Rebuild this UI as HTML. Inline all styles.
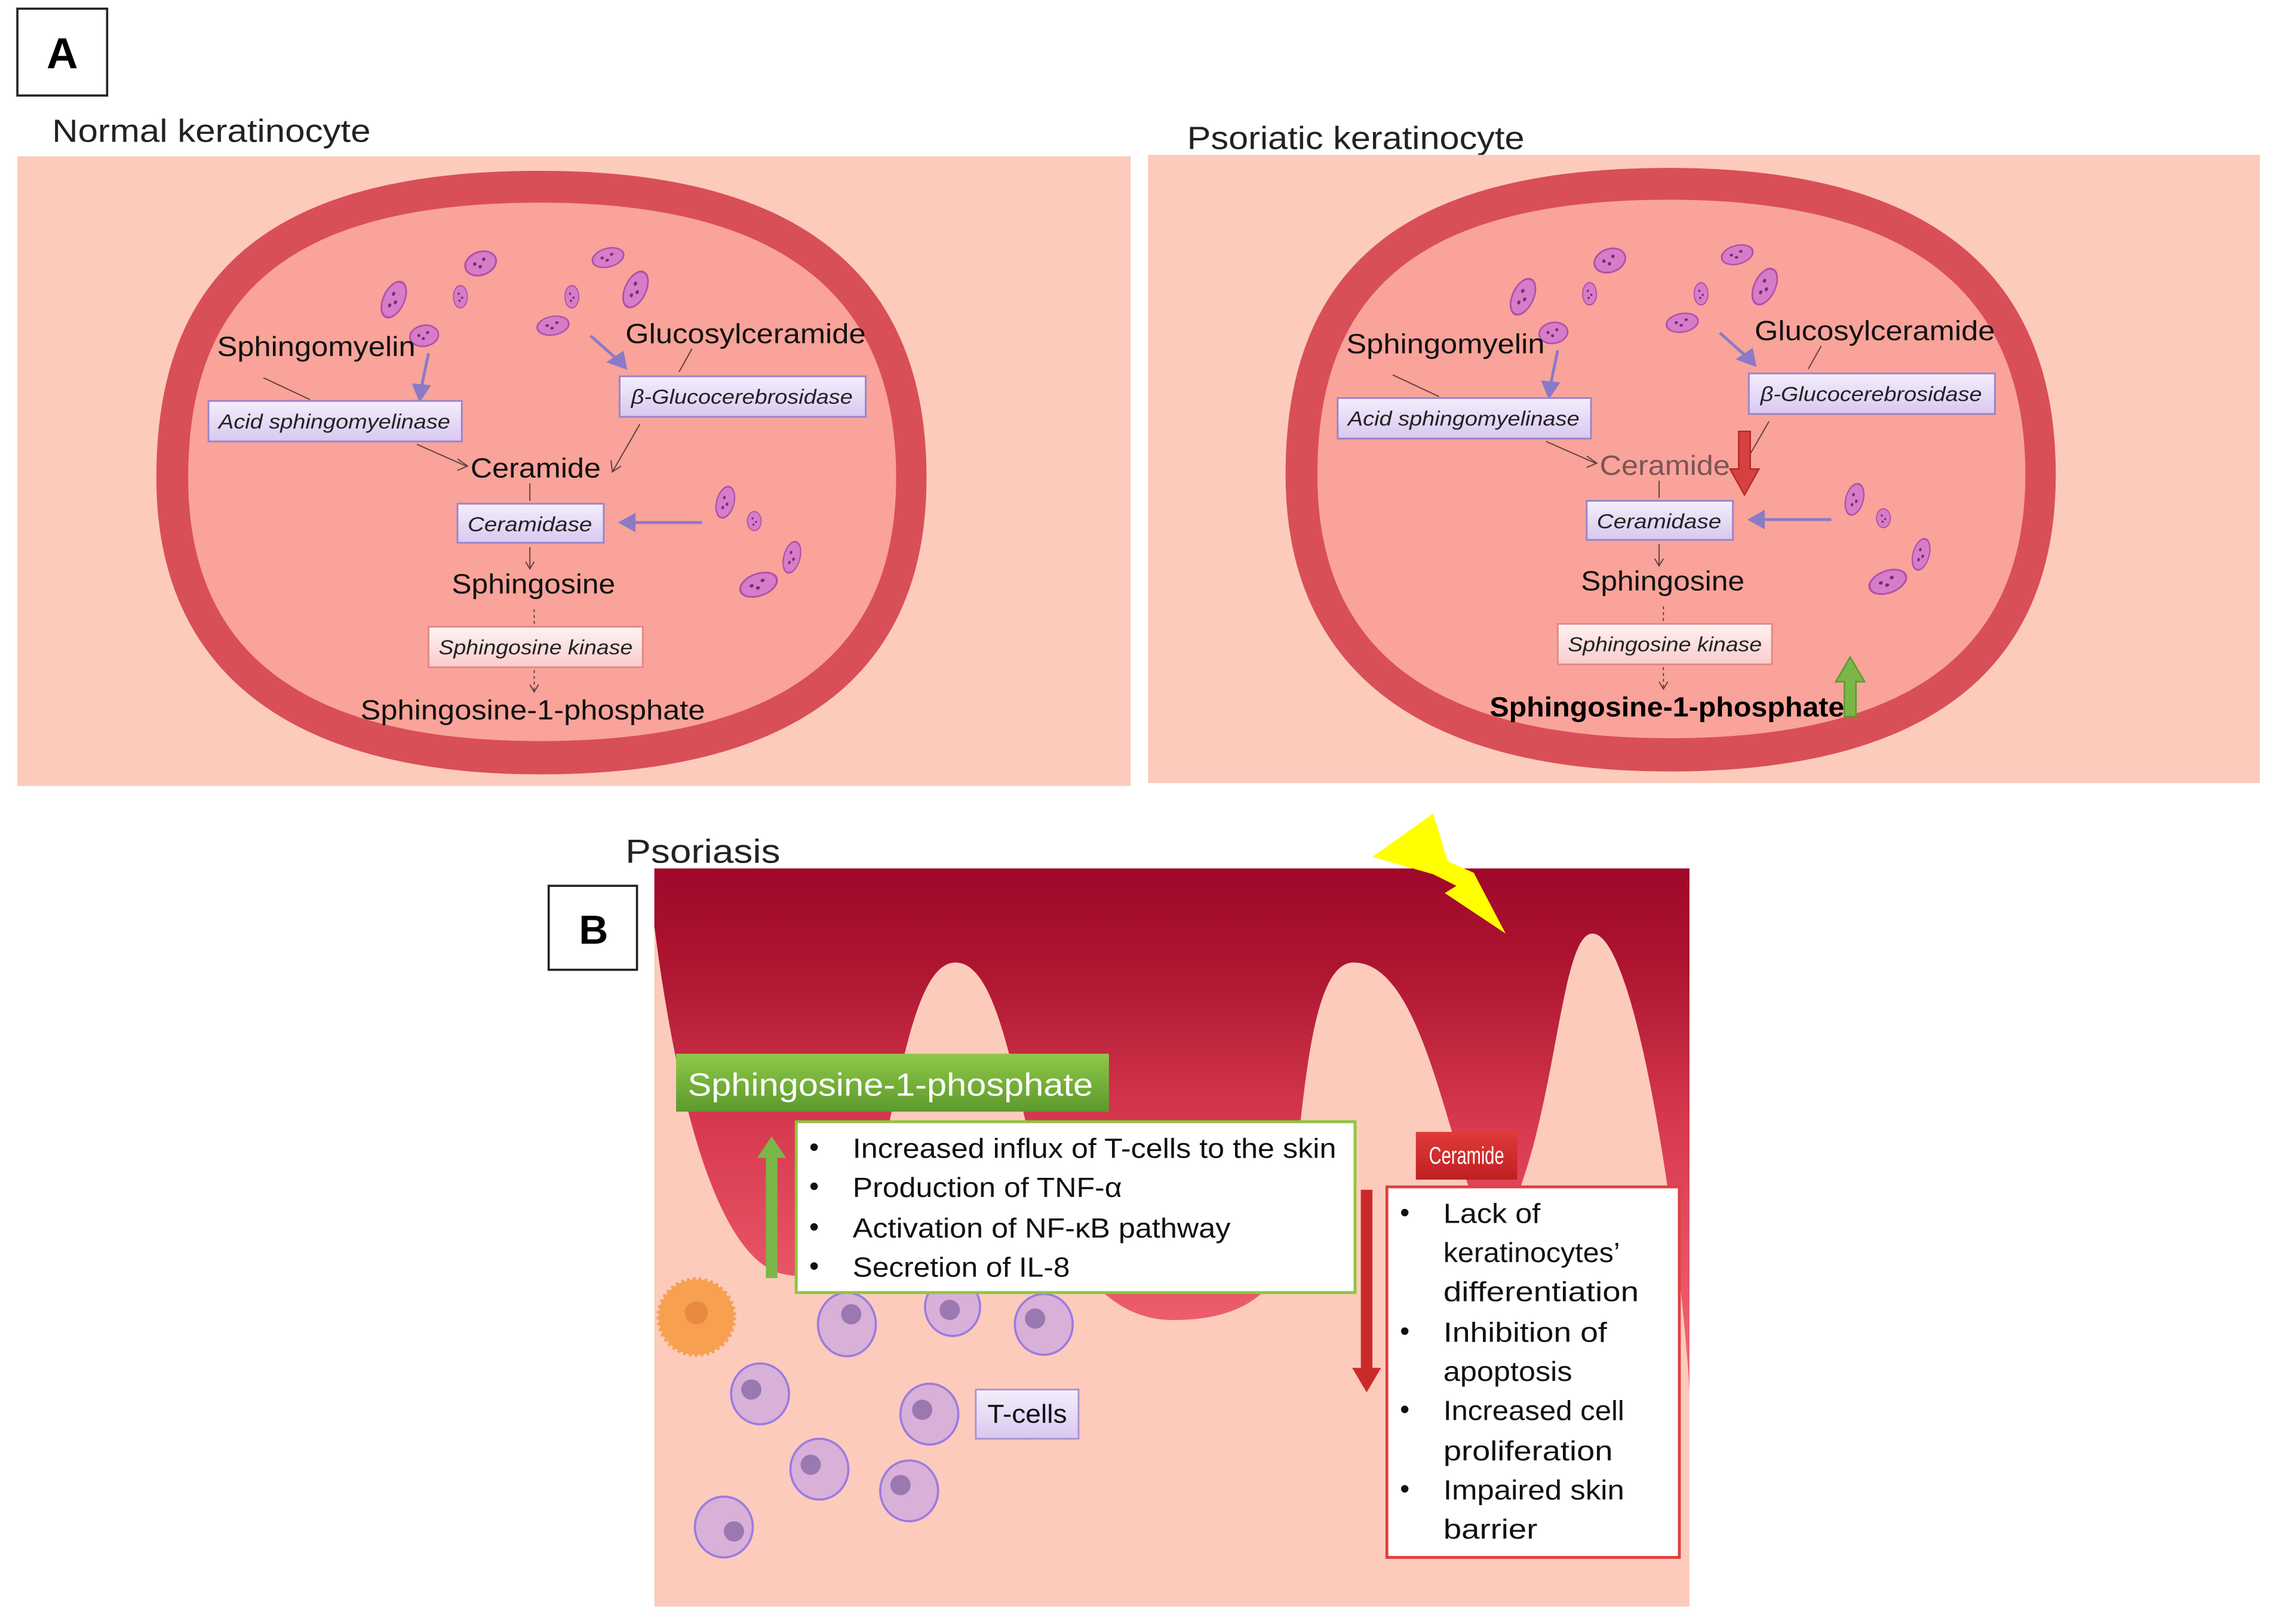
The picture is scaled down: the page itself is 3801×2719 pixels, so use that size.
<!DOCTYPE html>
<html><head><meta charset="utf-8"><style>html,body{margin:0;padding:0;background:#fff}svg{display:block}text{font-family:"Liberation Sans",sans-serif}</style></head>
<body>
<svg width="3801" height="2719" viewBox="0 0 1568 1122" preserveAspectRatio="none" xmlns="http://www.w3.org/2000/svg">
<defs>
<linearGradient id="lav" x1="0" y1="0" x2="0" y2="1"><stop offset="0" stop-color="#f4eefc"/><stop offset="1" stop-color="#d9c8f0"/></linearGradient>
<linearGradient id="pnk" x1="0" y1="0" x2="0" y2="1"><stop offset="0" stop-color="#fff2f2"/><stop offset="1" stop-color="#f9cccc"/></linearGradient>
<linearGradient id="skin" x1="0" y1="0" x2="0" y2="1"><stop offset="0" stop-color="#a0082a"/><stop offset="0.18" stop-color="#ac1430"/><stop offset="0.5" stop-color="#d83a50"/><stop offset="1" stop-color="#f46a78"/></linearGradient>
<linearGradient id="grn" x1="0" y1="0" x2="0" y2="1"><stop offset="0" stop-color="#8fc848"/><stop offset="1" stop-color="#5c9a2c"/></linearGradient>
<linearGradient id="redl" x1="0" y1="0" x2="0" y2="1"><stop offset="0" stop-color="#e03a3a"/><stop offset="1" stop-color="#c01f22"/></linearGradient>
<g id="ves"><ellipse rx="8" ry="11" fill="#d77cc8" stroke="#b050a8" stroke-width="1.2"/><circle cx="-2" cy="-3" r="1.2" fill="#7a2a7a"/><circle cx="2" cy="1" r="1.2" fill="#7a2a7a"/><circle cx="-1" cy="4" r="1.2" fill="#7a2a7a"/></g>
<g id="cell">
<path d="M373,118 C565,118 640,200 640,330 C640,470 545,535 373,535 C195,535 108,460 108,330 C108,190 185,118 373,118 Z" fill="#d94f57"/>
<path d="M373,140 C550,140 619,212 619,330 C619,455 535,512 373,512 C205,512 130,448 130,330 C130,205 198,140 373,140 Z" fill="#f9a39a"/>
<use href="#ves" transform="translate(272,207) rotate(25) scale(0.9,1.2)"/>
<use href="#ves" transform="translate(332,182) rotate(70)"/>
<use href="#ves" transform="translate(318,205) scale(0.6,0.7)"/>
<use href="#ves" transform="translate(293,232) rotate(80) scale(0.9)"/>
<use href="#ves" transform="translate(420,178) rotate(75) scale(0.8,1)"/>
<use href="#ves" transform="translate(439,200) rotate(25) scale(0.9,1.2)"/>
<use href="#ves" transform="translate(395,205) scale(0.6,0.7)"/>
<use href="#ves" transform="translate(382,225) rotate(80) scale(0.8,1)"/>
<use href="#ves" transform="translate(501,347) rotate(15) scale(0.75,1)"/>
<use href="#ves" transform="translate(521,360) scale(0.6,0.6)"/>
<use href="#ves" transform="translate(547,385) rotate(15) scale(0.7,1)"/>
<use href="#ves" transform="translate(524,404) rotate(70) scale(0.95,1.2)"/>
<g stroke="#8a7ac8" stroke-width="2" fill="#8a7ac8">
<line x1="296" y1="244" x2="291" y2="268"/><polygon points="286,266 296,267 290,276"/>
<line x1="408" y1="232" x2="426" y2="248"/><polygon points="421,250 430,244 432,254"/>
<line x1="485" y1="361" x2="436" y2="361"/><polygon points="438,356 438,366 429,361"/>
</g>
<g stroke="#604040" stroke-width="0.8" fill="none">
<line x1="182" y1="261" x2="214" y2="276"/>
<line x1="288" y1="307" x2="322" y2="322"/><polyline points="316,317 323,322 316,325"/>
<line x1="478" y1="241" x2="469" y2="257"/>
<line x1="442" y1="293" x2="423" y2="326"/><polyline points="422,318 423,326 429,322"/>
<line x1="366" y1="334" x2="366" y2="346"/>
<line x1="366" y1="378" x2="366" y2="393"/><polyline points="363,388 366,393 369,388"/>
<line x1="369" y1="421" x2="369" y2="432" stroke-dasharray="2,2"/>
<line x1="369" y1="463" x2="369" y2="478" stroke-dasharray="2,2"/><polyline points="366,473 369,478 372,473"/>
</g>
<g stroke="#9a84c8" stroke-width="1.2">
<rect x="144" y="277" width="175" height="28" fill="url(#lav)"/>
<rect x="428" y="260" width="170" height="28" fill="url(#lav)"/>
<rect x="316" y="348" width="101" height="27" fill="url(#lav)"/>
</g>
<rect x="296" y="433" width="148" height="28" fill="url(#pnk)" stroke="#e08888" stroke-width="1.2"/>
<g font-style="italic" font-size="14" fill="#222">
<text x="151" y="296" textLength="160" lengthAdjust="spacingAndGlyphs">Acid sphingomyelinase</text>
<text x="436" y="279" textLength="153" lengthAdjust="spacingAndGlyphs">β-Glucocerebrosidase</text>
<text x="323" y="367" textLength="86" lengthAdjust="spacingAndGlyphs">Ceramidase</text>
<text x="303" y="452" textLength="134" lengthAdjust="spacingAndGlyphs">Sphingosine kinase</text>
</g>
<g font-size="19" fill="#111">
<text x="150" y="246" textLength="137" lengthAdjust="spacingAndGlyphs">Sphingomyelin</text>
<text x="432" y="237" textLength="166" lengthAdjust="spacingAndGlyphs">Glucosylceramide</text>
<text x="312" y="410" textLength="113" lengthAdjust="spacingAndGlyphs">Sphingosine</text>
</g>
</g>
</defs>

<rect x="12" y="6" width="62" height="60" fill="#fff" stroke="#222" stroke-width="1.5"/>
<text x="43" y="47" font-size="30" font-weight="bold" text-anchor="middle" fill="#000">A</text>
<text x="36" y="98" font-size="22" fill="#222" textLength="220" lengthAdjust="spacingAndGlyphs">Normal keratinocyte</text>
<text x="820" y="103" font-size="22" fill="#222" textLength="233" lengthAdjust="spacingAndGlyphs">Psoriatic keratinocyte</text>

<rect x="12" y="108" width="769" height="435" fill="#fccbbc"/>
<rect x="793" y="107" width="768" height="434" fill="#fccbbc"/>

<use href="#cell"/>
<text x="325" y="330" font-size="19" fill="#111" textLength="90" lengthAdjust="spacingAndGlyphs">Ceramide</text>
<text x="249" y="497" font-size="19" fill="#111" textLength="238" lengthAdjust="spacingAndGlyphs">Sphingosine-1-phosphate</text>

<g transform="translate(780,-2)">
<use href="#cell"/>
<text x="325" y="330" font-size="19" fill="#7a5555" textLength="90" lengthAdjust="spacingAndGlyphs">Ceramide</text>
<text x="249" y="497" font-size="19" font-weight="bold" fill="#000" textLength="245" lengthAdjust="spacingAndGlyphs">Sphingosine-1-phosphate</text>
<polygon points="421,300 429,300 429,326 435,326 425,344 415,326 421,326" fill="#d84040" stroke="#b02a2a" stroke-width="1"/>
<polygon points="494,497 502,497 502,473 508,473 498,456 488,473 494,473" fill="#7ab648" stroke="#5a9a30" stroke-width="1"/>
</g>

<text x="432" y="596" font-size="23" fill="#222" textLength="107" lengthAdjust="spacingAndGlyphs">Psoriasis</text>
<rect x="452" y="600" width="715" height="510" fill="#fccbbc"/>
<path d="M452,600 H1167 V960 C1160,850 1130,645 1100,645 C1075,645 1075,800 1030,860 C1000,800 985,665 935,665 C905,665 900,760 890,860 C880,905 840,912 810,912 C770,912 740,880 720,820 C700,750 690,665 660,665 C630,665 620,760 600,840 C585,880 560,885 540,880 C500,870 470,780 452,640 Z" fill="url(#skin)"/>
<rect x="379" y="612" width="61" height="58" fill="#fff" stroke="#222" stroke-width="1.5"/>
<text x="410" y="652" font-size="28" font-weight="bold" text-anchor="middle" fill="#000">B</text>
<polygon points="948,592 990,562 1000,595 1018,603 1040,645 998,617 1006,612 990,604" fill="#ffff00"/>

<polygon points="529,883 537,883 537,800 543,800 533,785 523,800 529,800" fill="#7ab648"/>
<polygon points="940,822 948,822 948,945 954,945 944,962 934,945 940,945" fill="#cc2a2a"/>

<g fill="#d9b0d8" stroke="#9b7be0" stroke-width="1.5">
<ellipse cx="585" cy="915" rx="20" ry="22"/><ellipse cx="658" cy="903" rx="19" ry="20"/><ellipse cx="721" cy="915" rx="20" ry="21"/>
<ellipse cx="525" cy="963" rx="20" ry="21"/><ellipse cx="642" cy="977" rx="20" ry="21"/><ellipse cx="566" cy="1015" rx="20" ry="21"/>
<ellipse cx="628" cy="1030" rx="20" ry="21"/><ellipse cx="500" cy="1055" rx="20" ry="21"/>
</g>
<g fill="#9a78b0">
<circle cx="588" cy="908" r="7"/><circle cx="656" cy="905" r="7"/><circle cx="715" cy="911" r="7"/><circle cx="519" cy="960" r="7"/>
<circle cx="637" cy="974" r="7"/><circle cx="560" cy="1012" r="7"/><circle cx="622" cy="1026" r="7"/><circle cx="507" cy="1058" r="7"/>
</g>
<circle cx="481" cy="910" r="26" fill="#f7a050" stroke="#f7a050" stroke-width="3" stroke-dasharray="2,2"/>
<circle cx="481" cy="907" r="8" fill="#e88a40"/>

<rect x="467" y="728" width="299" height="40" fill="url(#grn)"/>
<text x="475" y="757" font-size="22" fill="#fff" textLength="280" lengthAdjust="spacingAndGlyphs">Sphingosine-1-phosphate</text>
<rect x="550" y="775" width="386" height="118" fill="#fff" stroke="#8dc63f" stroke-width="2"/>
<g font-size="19" fill="#111">
<text x="559" y="799">•</text><text x="589" y="800" textLength="334" lengthAdjust="spacingAndGlyphs">Increased influx of T-cells to the skin</text>
<text x="559" y="826">•</text><text x="589" y="827" textLength="186" lengthAdjust="spacingAndGlyphs">Production of TNF-α</text>
<text x="559" y="854">•</text><text x="589" y="855" textLength="261" lengthAdjust="spacingAndGlyphs">Activation of NF-κB pathway</text>
<text x="559" y="881">•</text><text x="589" y="882" textLength="150" lengthAdjust="spacingAndGlyphs">Secretion of IL-8</text>
</g>

<rect x="978" y="782" width="70" height="33" fill="url(#redl)"/>
<text x="987" y="804" font-size="17" fill="#fff" textLength="52" lengthAdjust="spacingAndGlyphs">Ceramide</text>
<rect x="958" y="820" width="202" height="256" fill="#fff" stroke="#e04040" stroke-width="2"/>
<g font-size="19" fill="#111">
<text x="967" y="844">•</text><text x="997" y="845" textLength="67" lengthAdjust="spacingAndGlyphs">Lack of</text>
<text x="997" y="872" textLength="122" lengthAdjust="spacingAndGlyphs">keratinocytes’</text>
<text x="997" y="899" textLength="135" lengthAdjust="spacingAndGlyphs">differentiation</text>
<text x="967" y="926">•</text><text x="997" y="927" textLength="113" lengthAdjust="spacingAndGlyphs">Inhibition of</text>
<text x="997" y="954" textLength="89" lengthAdjust="spacingAndGlyphs">apoptosis</text>
<text x="967" y="980">•</text><text x="997" y="981" textLength="125" lengthAdjust="spacingAndGlyphs">Increased cell</text>
<text x="997" y="1009" textLength="117" lengthAdjust="spacingAndGlyphs">proliferation</text>
<text x="967" y="1035">•</text><text x="997" y="1036" textLength="125" lengthAdjust="spacingAndGlyphs">Impaired skin</text>
<text x="997" y="1063" textLength="65" lengthAdjust="spacingAndGlyphs">barrier</text>
</g>

<rect x="674" y="960" width="71" height="34" fill="url(#lav)" stroke="#b090d0" stroke-width="1.2"/>
<text x="682" y="983" font-size="18" fill="#111" textLength="55" lengthAdjust="spacingAndGlyphs">T-cells</text>
</svg>
</body></html>
